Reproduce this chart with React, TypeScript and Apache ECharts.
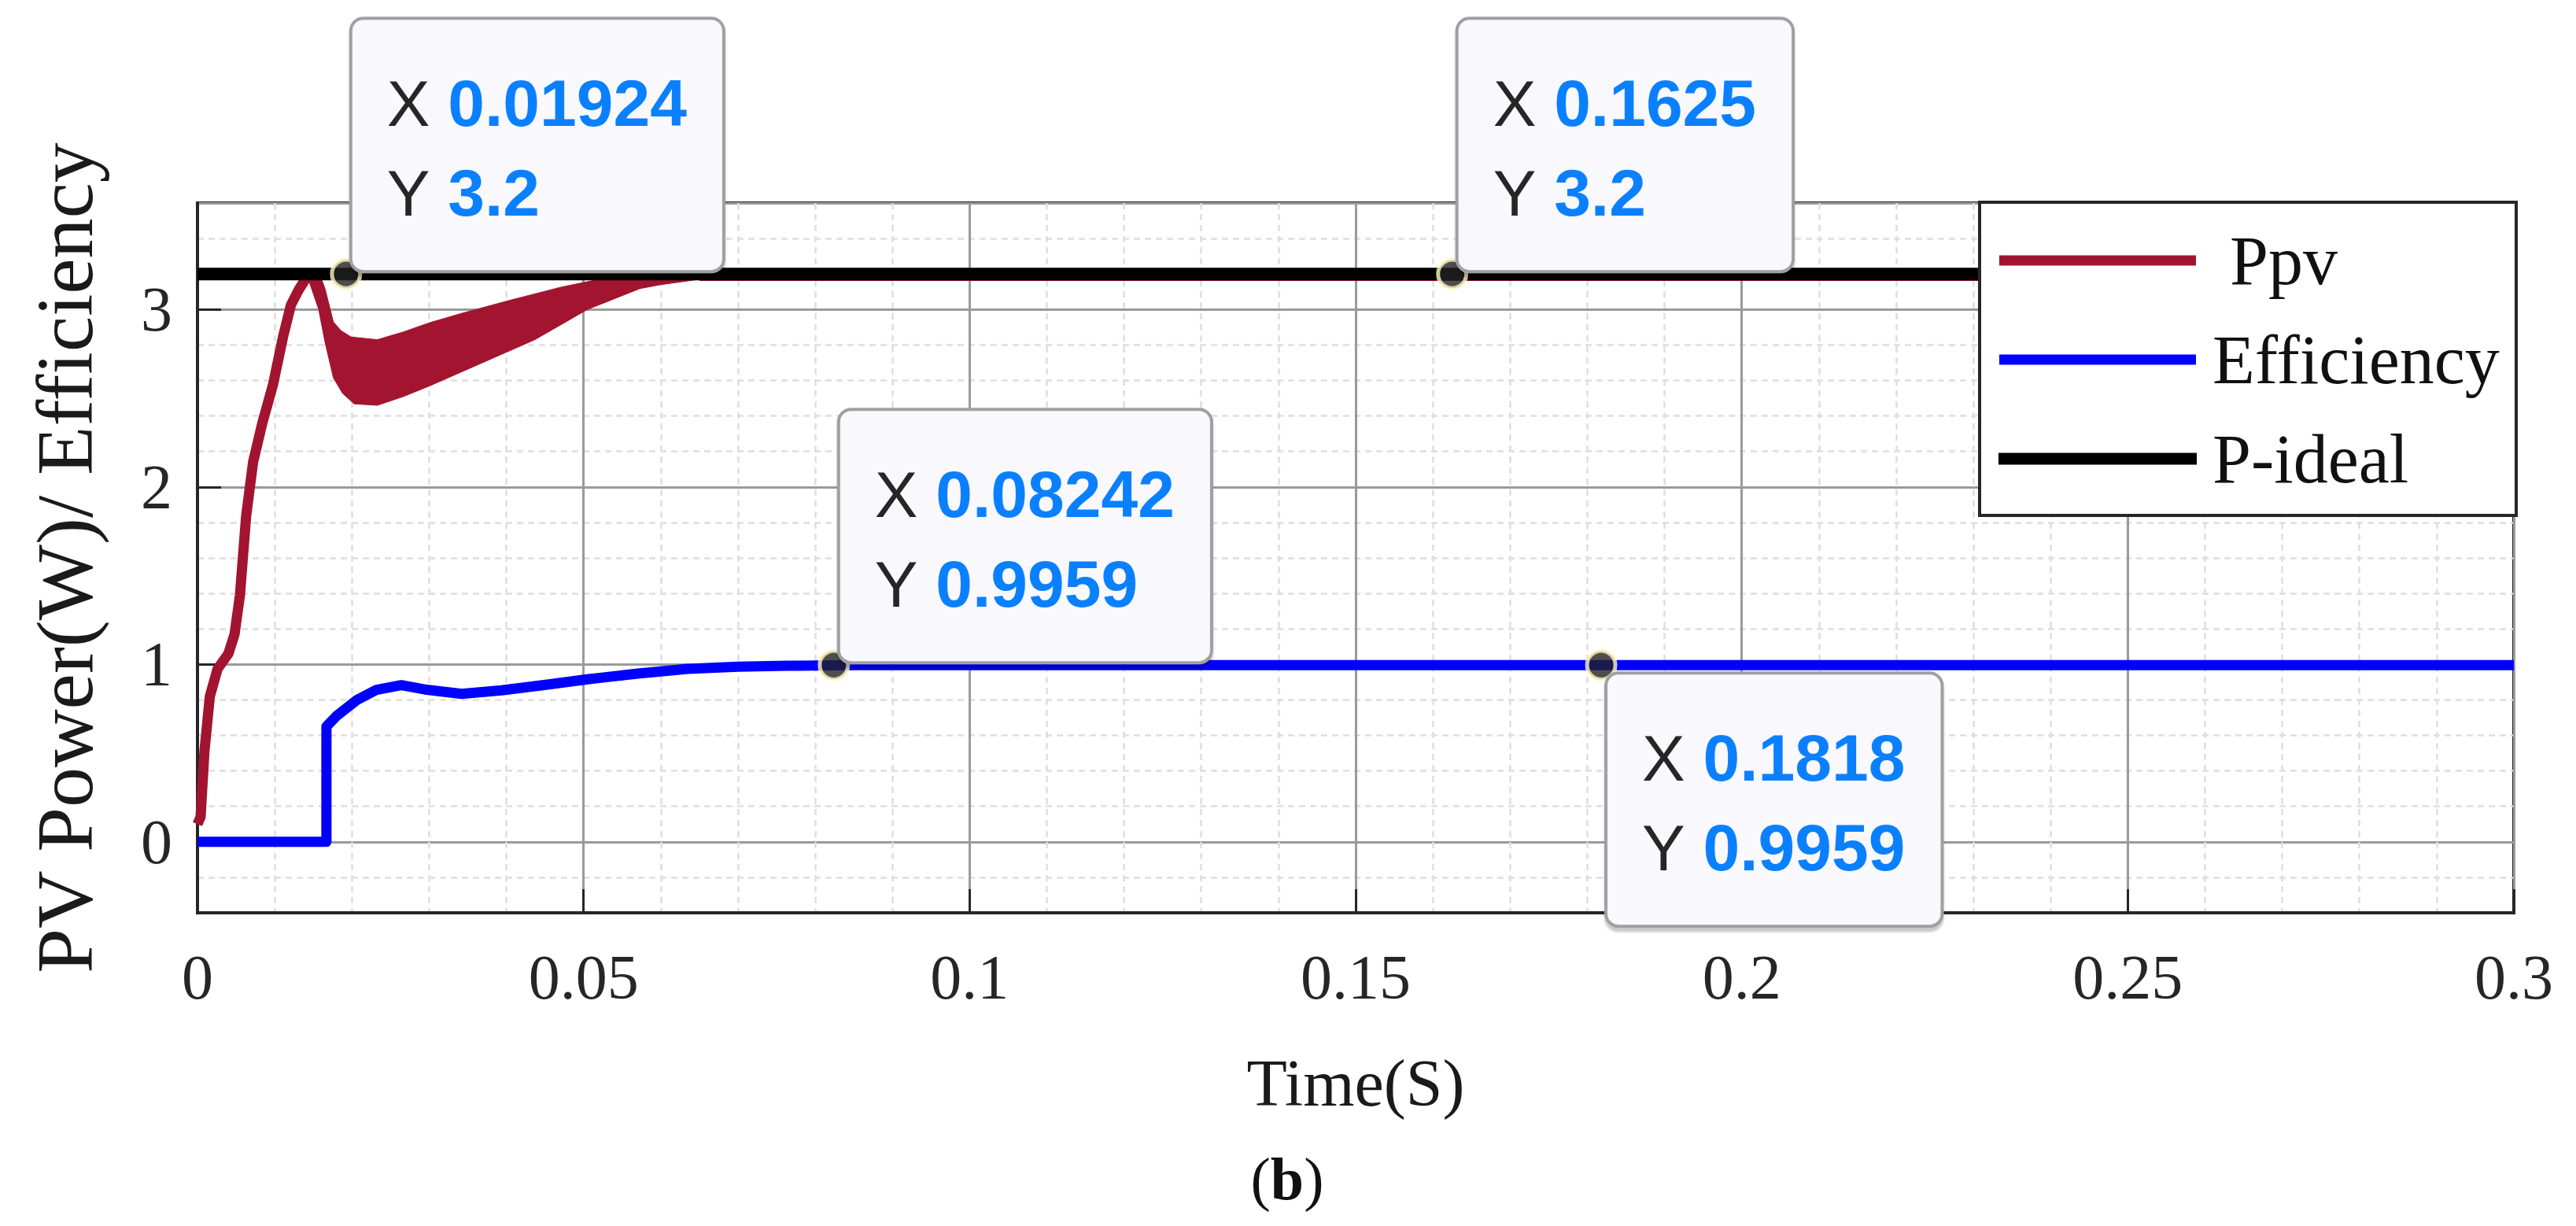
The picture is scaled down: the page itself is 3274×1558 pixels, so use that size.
import React, { useEffect, useRef } from 'react';
import * as echarts from 'echarts';

const RED = '#a2142f';
const BLUE = '#0000ff';
const BLACK = '#000000';
const SERIF = "'Liberation Serif', 'Times New Roman', serif";
const SANS = "'Liberation Sans', Arial, sans-serif";

// Ppv: initial rise up to the first peak
const ppvRiseT = [0, 0.0004, 0.0009, 0.0016, 0.0026, 0.004, 0.0048, 0.0055, 0.0063, 0.0072, 0.0084, 0.0098, 0.0111, 0.0121, 0.0131, 0.0141];
const ppvRiseV = [0.1, 0.14, 0.51, 0.82, 0.975, 1.06, 1.17, 1.39, 1.835, 2.14, 2.36, 2.58, 2.85, 3.025, 3.11, 3.18];
// Ppv: steady state after the ripple band
const ppvTailT = [0.065, 0.3];
const ppvTailV = [3.19, 3.19];
// Ppv ripple band envelopes
const bandUpperT = [0.0141, 0.0158, 0.0165, 0.0176, 0.0186, 0.0199, 0.0233, 0.0267, 0.0301, 0.0342, 0.0403, 0.0471, 0.052, 0.065];
const bandUpperV = [3.2, 3.2, 3.12, 2.93, 2.88, 2.845, 2.83, 2.874, 2.926, 2.978, 3.05, 3.126, 3.17, 3.2];
const bandLowerT = [0.0141, 0.0146, 0.0157, 0.0165, 0.0176, 0.0188, 0.0203, 0.0233, 0.0267, 0.0301, 0.0369, 0.0437, 0.0505, 0.0573, 0.06, 0.065];
const bandLowerV = [3.2, 3.14, 3.0, 2.82, 2.615, 2.527, 2.468, 2.46, 2.51, 2.57, 2.7, 2.83, 3.0, 3.118, 3.14, 3.17];
// Efficiency
const effT = [0, 0.0167, 0.0167, 0.018, 0.0206, 0.0232, 0.0264, 0.0297, 0.0342, 0.0394, 0.0453, 0.0505, 0.057, 0.0635, 0.07, 0.0765, 0.085, 0.3];
const effV = [0, 0, 0.65, 0.709, 0.798, 0.857, 0.883, 0.857, 0.834, 0.854, 0.886, 0.916, 0.948, 0.975, 0.987, 0.992, 0.9959, 0.9959];
// P-ideal
const idealT = [0, 0.3];
const idealV = [3.2, 3.2];
// Data tips
const tipX = [0.01924, 0.1625, 0.08242, 0.1818];
const tipY = [3.2, 3.2, 0.9959, 0.9959];
const tipBelow = [false, false, false, true];

const zip = (a: number[], b: (number | null)[]) => a.map((v, i) => [v, b[i]]);

export default function App() {
  const ref = useRef<HTMLDivElement>(null);

  useEffect(() => {
    const el = ref.current!;
    const chart = echarts.init(el, null, { renderer: 'svg' });

    const ppvData: any[] = [...zip(ppvRiseT, ppvRiseV), [0.03, null], ...zip(ppvTailT, ppvTailV)];

    const option: any = {
      animation: false,
      backgroundColor: '#ffffff',
      textStyle: { fontFamily: SERIF },
      grid: {
        left: 251,
        right: 79,
        top: 258,
        bottom: 398,
        show: true,
        borderColor: '#262626',
        borderWidth: 4,
        backgroundColor: 'transparent',
      },
      legend: {
        left: 2516,
        top: 257,
        orient: 'vertical',
        selectedMode: false,
        backgroundColor: '#ffffff',
        borderColor: '#262626',
        borderWidth: 4,
        borderRadius: 0,
        padding: [24, 20, 22, 24],
        itemWidth: 250,
        itemHeight: 13,
        itemGap: 26,
        formatter: (n: string) => (n === 'Ppv' ? ' Ppv' : n),
        textStyle: {
          fontFamily: SERIF,
          fontSize: 88,
          color: '#111111',
          lineHeight: 100,
          width: 366,
          padding: [0, 0, 0, 16],
        },
        data: [
          { name: 'Ppv', icon: 'rect', itemStyle: { color: RED } },
          { name: 'Efficiency', icon: 'rect', itemStyle: { color: BLUE } },
          { name: 'P-ideal', icon: 'rect', itemStyle: { color: BLACK, borderColor: BLACK, borderWidth: 2 } },
        ],
      },
      xAxis: {
        type: 'value',
        min: 0,
        max: 0.3,
        interval: 0.05,
        name: 'Time(S)',
        nameLocation: 'middle',
        nameGap: 174,
        nameTextStyle: { fontFamily: SERIF, fontSize: 84, color: '#1a1a1a' },
        axisLine: { show: true, onZero: false, lineStyle: { color: '#262626', width: 4 } },
        axisTick: { show: true, inside: true, length: 30, lineStyle: { color: '#262626', width: 3 } },
        axisLabel: { fontFamily: SERIF, fontSize: 80, color: '#262626', margin: 42 },
        splitLine: { show: true, lineStyle: { color: '#9a9a9a', width: 3 } },
        minorTick: { show: false, splitNumber: 5 },
        minorSplitLine: { show: true, lineStyle: { color: '#dedede', width: 2.5, type: [8, 6] } },
      },
      yAxis: {
        type: 'value',
        min: -0.4,
        max: 3.6,
        splitNumber: 4,
        name: 'PV Power(W)/ Efficiency',
        nameLocation: 'middle',
        nameGap: 118,
        nameTextStyle: { fontFamily: SERIF, fontSize: 102, color: '#1a1a1a' },
        axisLine: { show: true, onZero: false, lineStyle: { color: '#262626', width: 4 } },
        axisTick: { show: true, inside: true, length: 30, lineStyle: { color: '#262626', width: 3 } },
        axisLabel: {
          fontFamily: SERIF,
          fontSize: 80,
          color: '#262626',
          margin: 32,
          showMinLabel: false,
          showMaxLabel: false,
          formatter: (v: number) => (Math.abs(v) < 1e-9 ? '0' : String(v)),
        },
        splitLine: { show: true, lineStyle: { color: '#9a9a9a', width: 3 } },
        minorTick: { show: false, splitNumber: 5 },
        minorSplitLine: { show: true, lineStyle: { color: '#dedede', width: 2.5, type: [8, 6] } },
      },
      series: [
        {
          name: 'Efficiency',
          type: 'line',
          data: zip(effT, effV),
          showSymbol: false,
          symbol: 'none',
          lineStyle: { color: BLUE, width: 13, join: 'round' },
          itemStyle: { color: BLUE },
          silent: true,
        },
        {
          name: 'Ppv',
          type: 'line',
          data: ppvData,
          connectNulls: false,
          showSymbol: false,
          symbol: 'none',
          lineStyle: { color: RED, width: 13, join: 'round' },
          itemStyle: { color: RED },
          silent: true,
        },
        {
          name: 'Ppv',
          type: 'custom',
          data: [[bandUpperT[0], bandUpperV[0]]],
          encode: { x: 0, y: 1 },
          clip: true,
          silent: true,
          itemStyle: { color: RED },
          renderItem: (params: any, api: any) => {
            if (params.dataIndex !== 0) return null;
            const pts: number[][] = [];
            for (let i = 0; i < bandUpperT.length; i++) pts.push(api.coord([bandUpperT[i], bandUpperV[i]]));
            for (let i = bandLowerT.length - 1; i >= 0; i--) pts.push(api.coord([bandLowerT[i], bandLowerV[i]]));
            return { type: 'polygon', shape: { points: pts }, style: { fill: RED, stroke: RED, lineWidth: 1 } };
          },
        },
        {
          name: 'P-ideal',
          type: 'line',
          data: zip(idealT, idealV),
          showSymbol: false,
          symbol: 'none',
          lineStyle: { color: BLACK, width: 16 },
          itemStyle: { color: BLACK },
          silent: true,
        },
        {
          name: 'datatips',
          type: 'scatter',
          data: zip(tipX, tipY),
          symbol: 'circle',
          symbolSize: 36,
          itemStyle: { color: '#222222', borderColor: '#fff6c2', borderWidth: 5 },
          z: 5,
          silent: true,
        },
      ],
    };

    chart.setOption(option);

    const graphics = tipX.map((x, i) => {
      const p = chart.convertToPixel({ gridIndex: 0 }, [x, tipY[i]]) as number[];
      const below = tipBelow[i];
      return {
        type: 'text',
        x: p[0] + 8,
        y: below ? p[1] + 12 : p[1] - 5,
        z: 100,
        silent: true,
        style: {
          text: `{k|X} {v|${String(x)}}\n{k|Y} {v|${String(tipY[i])}}`,
          fontFamily: SANS,
          fontSize: 82,
          fill: '#262626',
          align: 'left',
          verticalAlign: below ? 'top' : 'bottom',
          backgroundColor: '#f8f8fd',
          borderColor: '#a0a0a0',
          borderWidth: 4,
          borderRadius: 14,
          padding: [49, 45, 41, 44],
          shadowColor: 'rgba(0,0,0,0.22)',
          shadowBlur: 3,
          shadowOffsetY: 5,
          rich: {
            k: { fontFamily: SANS, fontSize: 82, fill: '#262626', lineHeight: 114 },
            v: { fontFamily: SANS, fontSize: 84, fontWeight: 'bold', fill: '#0a80ff', lineHeight: 114 },
          },
        },
      };
    });

    const caption = {
      type: 'text',
      x: 1636,
      y: 1498,
      z: 100,
      silent: true,
      style: {
        text: '({b|b})',
        fontFamily: SERIF,
        fontSize: 76,
        fill: '#111111',
        align: 'center',
        verticalAlign: 'middle',
        rich: { b: { fontFamily: SERIF, fontSize: 76, fontWeight: 'bold', fill: '#111111' } },
      },
    };

    chart.setOption({ graphic: [...graphics, caption] });

    return () => {
      chart.dispose();
    };
  }, []);

  return (
    <div
      ref={ref}
      style={{ position: 'fixed', left: 0, top: 0, width: 3274, height: 1558, background: '#ffffff' }}
    />
  );
}
